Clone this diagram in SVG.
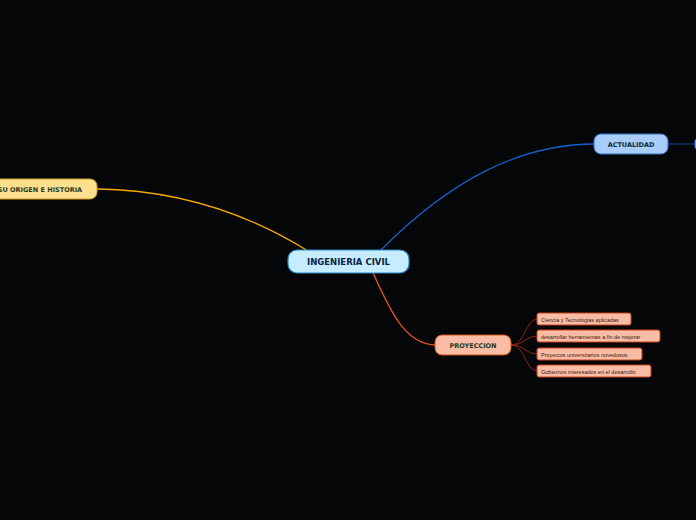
<svg xmlns="http://www.w3.org/2000/svg" width="696" height="520" viewBox="0 0 696 520">
<style>
text{font-family:"DejaVu Sans",sans-serif;font-weight:bold;text-anchor:middle;dominant-baseline:central}
.leaf rect{fill:#fbbca6;stroke:#c9401a;stroke-width:1}
.leaf text{font-family:"Liberation Sans",sans-serif;font-weight:normal;font-size:5.5px;fill:#3a1a10;text-anchor:start}
.c{fill:none;stroke-width:1.3}
</style>
<rect width="696" height="520" fill="#040608"/>
<g id="connectors">
<path class="c" stroke="#f5a800" d="M97,189 C180,190 250,215 308,251"/>
<path class="c" stroke="#1560c8" d="M380,251 C450,180 520,144 595,144"/>
<path class="c" stroke="#12386e" d="M668,144 L696,144"/>
<path class="c" stroke="#e0501e" d="M373,273 C390,310 405,345 436,345"/>
<g stroke="#8a2a10" fill="none" stroke-width="1">
<path d="M511,345 C525,345 525,319 538,319"/>
<path d="M511,345 C525,345 525,336 538,336"/>
<path d="M511,345 C525,345 525,354 538,354"/>
<path d="M511,345 C525,345 525,371 538,371"/>
</g>
</g>
<g id="center"><rect x="288" y="250" width="121" height="23" rx="9" fill="#c6ecff" stroke="#2a88c8" stroke-width="1.2"/><text x="348.5" y="262" font-size="8.5" fill="#0b2342">INGENIERIA CIVIL</text></g>
<g id="origen"><rect x="-20" y="179" width="117" height="20" rx="7" fill="#fedf8e" stroke="#d4a020" stroke-width="1"/><text x="40" y="189.5" font-size="6.5" fill="#2a3a20">SU ORIGEN E HISTORIA</text></g>
<g id="actualidad"><rect x="594" y="134" width="74" height="20" rx="7" fill="#a8cdfb" stroke="#2a70d0" stroke-width="1"/><text x="631" y="144.5" font-size="6.5" fill="#0b2a3a">ACTUALIDAD</text></g>
<g id="actual-child"><rect x="695" y="139" width="10" height="10" rx="2" fill="#a8cdfb" stroke="#2a70d0"/></g>
<g id="proyeccion"><rect x="435" y="335" width="76" height="20" rx="7" fill="#fbbca6" stroke="#d0501e" stroke-width="1"/><text x="473" y="345.5" font-size="6.5" fill="#1a3a2a">PROYECCION</text></g>
<g id="leaf1" class="leaf"><rect x="537" y="313" width="94" height="12" rx="2"/><text x="541" y="319.5">Ciencia y Tecnologias aplicadas</text></g>
<g id="leaf2" class="leaf"><rect x="537" y="330" width="123" height="12" rx="2"/><text x="541" y="336.5">desarrollar herramientas a fin de mejorar</text></g>
<g id="leaf3" class="leaf"><rect x="537" y="348" width="105" height="12" rx="2"/><text x="541" y="354.5">Proyectos universitarios novedosos</text></g>
<g id="leaf4" class="leaf"><rect x="537" y="365" width="114" height="12" rx="2"/><text x="541" y="371.5">Gobiernos interesados en el desarrollo</text></g>
</svg>
